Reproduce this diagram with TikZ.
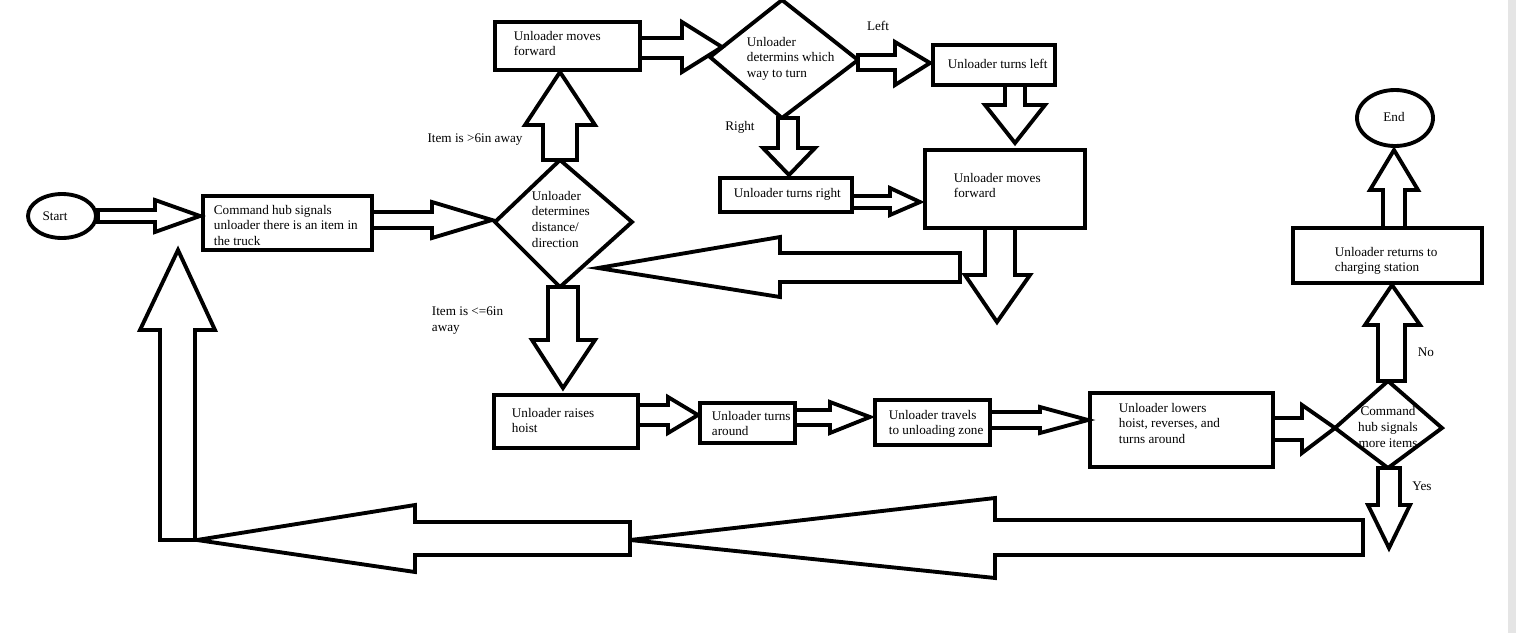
\documentclass[tikz,border=0pt]{standalone}
\usepackage{fontspec}
\setmainfont{Liberation Serif}
\begin{document}
\begin{tikzpicture}[x=0.02cm,y=-0.02cm,line width=2.2pt,line join=miter,
  box/.style={draw,line width=2.2pt},
  txt/.style={anchor=north west,align=left,inner sep=0pt,font=\fontsize{7.5}{9}\selectfont},
  lbl/.style={inner sep=0pt,font=\fontsize{7.5}{9}\selectfont},
  blk/.style={draw,fill=white,line width=2.2pt}]
\useasboundingbox (0,0) rectangle (1516,633);
\fill[gray!20] (1508,0) rectangle (1516,633);

% ---- shapes
\draw[box] (62,216) ellipse (34 and 22);
\node[lbl] (start) at (55,216) {Start};
\draw[box] (1395,118) ellipse (38 and 28);
\node[lbl] (end) at (1394,117) {End};

\draw[box] (203,196) rectangle (372,250);
\node[txt] (hub) at (212,203) {Command hub signals\\unloader there is an item in\\the truck};
\draw[box] (560,160) -- (632,222) -- (560,287) -- (495,222) -- cycle;
\node[txt] (dist) at (530,189) {Unloader\\determines\\distance/\\direction};

\draw[box] (495,22) rectangle (640,70);
\node[txt] (fwd1) at (512,29) {Unloader moves\\forward};
\draw[box] (782,0) -- (858,60) -- (782,118) -- (710,57) -- cycle;
\node[txt] (which) at (745,35) {Unloader\\determins which\\way to turn};
\draw[box] (933,45) rectangle (1055,85);
\node[txt] (left) at (946,57) {Unloader turns left};
\draw[box] (720,178) rectangle (852,212);
\node[txt] (right) at (732,186) {Unloader turns right};
\draw[box] (925,150) rectangle (1085,228);
\node[txt] (fwd2) at (952,171) {Unloader moves\\forward};

\draw[box] (494,395) rectangle (638,448);
\node[txt] (raise) at (510,406) {Unloader raises\\hoist};
\draw[box] (700,403) rectangle (795,443);
\node[txt] (turn) at (710,409) {Unloader turns\\around};
\draw[box] (875,400) rectangle (990,445);
\node[txt] (travel) at (887,408) {Unloader travels\\to unloading zone};
\draw[box] (1090,393) rectangle (1273,467);
\node[txt] (lower) at (1117,401) {Unloader lowers\\hoist, reverses, and\\turns around};
\draw[box] (1388,381) -- (1442,428) -- (1388,468) -- (1335,428) -- cycle;
\node[lbl,align=center,font=\fontsize{7.5}{9}\selectfont] (more) at (1388,427) {Command\\hub signals\\more items};
\draw[box] (1293,228) rectangle (1482,283);
\node[txt] (ret) at (1333,245) {Unloader returns to\\charging station};

% ---- labels
\node[lbl] (l1) at (475,140) {Item is >6in away};
\node[txt] (l2) at (430,305) {Item is <=6in\\away};
\node[lbl] (l3) at (878,26) {Left};
\node[lbl] (l4) at (740,127) {Right};
\node[lbl] (l5) at (1426,352) {No};
\node[lbl] (l6) at (1422,486) {Yes};

% ---- block arrows
% right-pointing
\draw[blk] (98,210) -- (155,210) -- (155,200) -- (200,216) -- (155,232) -- (155,222) -- (98,222) -- cycle;
\draw[blk] (372,212) -- (432,212) -- (432,202) -- (492,220) -- (432,238) -- (432,228) -- (372,228) -- cycle;
\draw[blk] (640,38) -- (682,38) -- (682,22) -- (722,47) -- (682,72) -- (682,58) -- (640,58) -- cycle;
\draw[blk] (858,55) -- (895,55) -- (895,42) -- (930,63) -- (895,85) -- (895,70) -- (858,70) -- cycle;
\draw[blk] (852,196) -- (890,196) -- (890,188) -- (920,202) -- (890,215) -- (890,208) -- (852,208) -- cycle;
\draw[blk] (638,405) -- (668,405) -- (668,397) -- (698,415) -- (668,433) -- (668,425) -- (638,425) -- cycle;
\draw[blk] (795,410) -- (830,410) -- (830,402) -- (870,417) -- (830,433) -- (830,425) -- (795,425) -- cycle;
\draw[blk] (990,412) -- (1040,412) -- (1040,407) -- (1088,420) -- (1040,433) -- (1040,428) -- (990,428) -- cycle;
\draw[blk] (1273,418) -- (1302,418) -- (1302,405) -- (1335,428) -- (1302,453) -- (1302,440) -- (1273,440) -- cycle;
% up-pointing
\draw[blk] (543,160) -- (543,125) -- (525,125) -- (560,72) -- (595,125) -- (577,125) -- (577,160) -- cycle;
\draw[blk] (1378,381) -- (1378,325) -- (1365,325) -- (1392,285) -- (1420,325) -- (1405,325) -- (1405,381) -- cycle;
\draw[blk] (1383,228) -- (1383,190) -- (1370,190) -- (1394,150) -- (1418,190) -- (1405,190) -- (1405,228) -- cycle;
% down-pointing
\draw[blk] (1005,85) -- (1005,105) -- (985,105) -- (1015,143) -- (1045,105) -- (1025,105) -- (1025,85) -- cycle;
\draw[blk] (778,118) -- (778,148) -- (763,148) -- (789,175) -- (815,148) -- (798,148) -- (798,118) -- cycle;
\draw[blk] (985,228) -- (985,275) -- (965,275) -- (997,322) -- (1030,275) -- (1015,275) -- (1015,228) -- cycle;
\draw[blk] (548,287) -- (548,340) -- (532,340) -- (563,388) -- (595,340) -- (578,340) -- (578,287) -- cycle;
\draw[blk] (1378,468) -- (1378,505) -- (1368,505) -- (1389,548) -- (1410,505) -- (1400,505) -- (1400,468) -- cycle;
% left-pointing return arrows
\draw[blk] (960,253) -- (780,253) -- (780,237) -- (598,268) -- (780,297) -- (780,282) -- (960,282) -- cycle;
\draw[blk] (1363,520) -- (995,520) -- (995,498) -- (630,540) -- (995,578) -- (995,555) -- (1363,555) -- cycle;
\draw[blk] (630,522) -- (415,522) -- (415,505) -- (197,540) -- (415,572) -- (415,555) -- (630,555) -- cycle;
\draw[blk] (160,540) -- (160,330) -- (140,330) -- (178,250) -- (215,330) -- (195,330) -- (195,540) -- cycle;
\end{tikzpicture}
\end{document}
